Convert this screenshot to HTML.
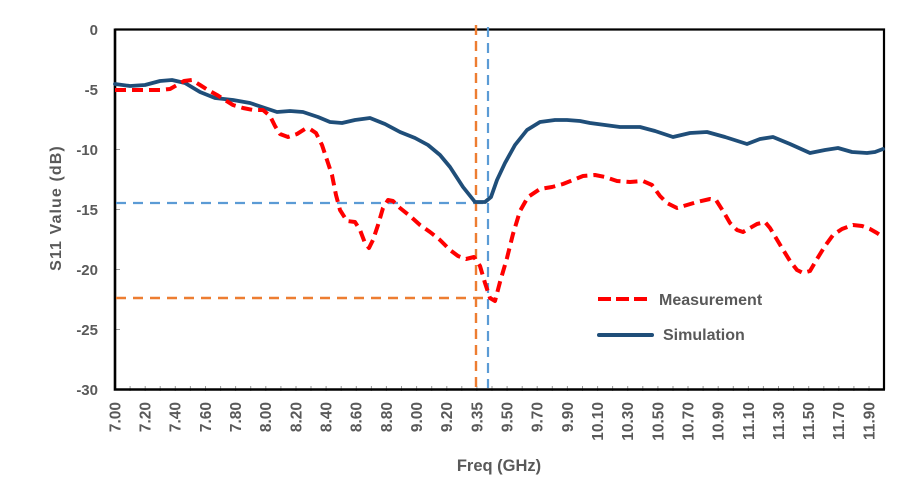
<!DOCTYPE html>
<html>
<head>
<meta charset="utf-8">
<style>
html,body{margin:0;padding:0;background:#fff;}
svg{display:block;}
text{font-family:"Liberation Sans",Arial,sans-serif;font-weight:bold;fill:#595959;}
</style>
</head>
<body>
<svg width="913" height="481" viewBox="0 0 913 481" xmlns="http://www.w3.org/2000/svg">
<rect x="0" y="0" width="913" height="481" fill="#fff"/>

<!-- x ticks -->
<g stroke="#9a9a9a" stroke-width="1">
<path d="M130.1 386V391M145.2 386V391M160.2 386V391M175.3 386V391M190.4 386V391M205.5 386V391M220.6 386V391M235.6 386V391M250.7 386V391M265.8 386V391M280.9 386V391M296 386V391M311 386V391M326.1 386V391M341.2 386V391M356.3 386V391M371.4 386V391M386.4 386V391M401.5 386V391M416.6 386V391M431.7 386V391M446.8 386V391M461.8 386V391M476.9 386V391M492 386V391M507.1 386V391M522.2 386V391M537.2 386V391M552.3 386V391M567.4 386V391M582.5 386V391M597.6 386V391M612.6 386V391M627.7 386V391M642.8 386V391M657.9 386V391M673 386V391M688 386V391M703.1 386V391M718.2 386V391M733.3 386V391M748.4 386V391M763.4 386V391M778.5 386V391M793.6 386V391M808.7 386V391M823.8 386V391M838.8 386V391M853.9 386V391M869 386V391"/>
<path d="M115 89.5H120M115 149.5H120M115 209.5H120M115 269.5H120M115 329.5H120"/>
</g>

<!-- plot frame -->
<path d="M115 29.5H884V389.5" fill="none" stroke="#000" stroke-width="2.2"/>
<path d="M115 28.5V389.5H885" fill="none" stroke="#000" stroke-width="2.6"/>

<!-- reference dashed lines -->
<path d="M116 203H488" stroke="#5B9BD5" stroke-width="2.2" stroke-dasharray="10 7" fill="none"/>
<path d="M116 298H490" stroke="#ED7D31" stroke-width="2.4" stroke-dasharray="10 7" fill="none"/>
<path d="M476 25V388" stroke="#ED7D31" stroke-width="2.4" stroke-dasharray="10 6" fill="none"/>
<path d="M488 27V388" stroke="#5B9BD5" stroke-width="2.2" stroke-dasharray="10 6" fill="none"/>

<!-- Simulation -->
<polyline fill="none" stroke="#1F4E79" stroke-width="3.8" stroke-linejoin="round" stroke-linecap="round"
points="115,84 130,86 145,85 160,81 172,80 185,83 200,92 215,98 233,100 250,103 265,108 277,112 290,111 303,112 318,117 330,122 342,123 355,120 370,118 385,124 400,132 415,138 428,145 440,155 450,167 463,187 475,202 485,202 491,197 497,180 505,163 515,145 527,130 540,122 555,120 567,120 580,121 590,123 605,125 620,127 640,127 655,131 673,137 690,133 707,132 725,137 747,144 760,139 773,137 790,144 810,153 825,150 838,148 852,152 867,153 875,152 883,149"/>

<!-- Measurement -->
<polyline fill="none" stroke="#FF0000" stroke-width="4" stroke-linejoin="round" stroke-dasharray="11 6"
points="115,90 130,90 145,90 160,90 170,89 177,85 184,81 192,80 200,85 208,90 217,95 225,100 233,105 243,108 253,110 263,110 270,116 275,126 280,134 288,137 297,134 305,129 310,129 316,133 322,145 327,160 332,175 336,195 340,210 347,221 355,222 360,230 365,243 369,248 373,240 378,225 383,208 388,200 393,201 400,208 410,216 420,225 430,232 440,240 450,250 458,256 466,259 474,257 480,266 485,283 490,298 495,301 500,282 507,258 513,234 520,211 528,197 540,189 552,187 563,184 573,180 583,176 595,175 605,177 617,181 630,182 643,181 652,185 660,196 667,203 677,208 687,205 697,202 710,199 716,200 723,211 730,223 737,230 743,232 750,228 757,224 765,222 770,228 776,238 782,248 790,261 797,270 803,273 810,271 817,259 825,246 833,235 842,229 853,225 862,226 870,229 877,233 883,237"/>

<!-- y tick labels -->
<g font-size="15" text-anchor="end">
<text x="98" y="29.5" dy="0.35em">0</text>
<text x="98" y="89.5" dy="0.35em">-5</text>
<text x="98" y="149.5" dy="0.35em">-10</text>
<text x="98" y="209.5" dy="0.35em">-15</text>
<text x="98" y="269.5" dy="0.35em">-20</text>
<text x="98" y="329.5" dy="0.35em">-25</text>
<text x="98" y="389.5" dy="0.35em">-30</text>
</g>

<!-- y title -->
<text x="0" y="0" font-size="16" letter-spacing="1.1" text-anchor="middle" transform="translate(55.5,208) rotate(-90)" dy="0.35em">S11 Value (dB)</text>

<!-- x tick labels -->
<g font-size="15.5" text-anchor="end">
<text transform="translate(115,402) rotate(-90)" dy="0.35em">7.00</text>
<text transform="translate(145.2,402) rotate(-90)" dy="0.35em">7.20</text>
<text transform="translate(175.3,402) rotate(-90)" dy="0.35em">7.40</text>
<text transform="translate(205.5,402) rotate(-90)" dy="0.35em">7.60</text>
<text transform="translate(235.6,402) rotate(-90)" dy="0.35em">7.80</text>
<text transform="translate(265.8,402) rotate(-90)" dy="0.35em">8.00</text>
<text transform="translate(296,402) rotate(-90)" dy="0.35em">8.20</text>
<text transform="translate(326.1,402) rotate(-90)" dy="0.35em">8.40</text>
<text transform="translate(356.3,402) rotate(-90)" dy="0.35em">8.60</text>
<text transform="translate(386.4,402) rotate(-90)" dy="0.35em">8.80</text>
<text transform="translate(416.6,402) rotate(-90)" dy="0.35em">9.00</text>
<text transform="translate(446.8,402) rotate(-90)" dy="0.35em">9.20</text>
<text transform="translate(476.9,402) rotate(-90)" dy="0.35em">9.35</text>
<text transform="translate(507.1,402) rotate(-90)" dy="0.35em">9.50</text>
<text transform="translate(537.2,402) rotate(-90)" dy="0.35em">9.70</text>
<text transform="translate(567.4,402) rotate(-90)" dy="0.35em">9.90</text>
<text transform="translate(597.6,402) rotate(-90)" dy="0.35em">10.10</text>
<text transform="translate(627.7,402) rotate(-90)" dy="0.35em">10.30</text>
<text transform="translate(657.9,402) rotate(-90)" dy="0.35em">10.50</text>
<text transform="translate(688,402) rotate(-90)" dy="0.35em">10.70</text>
<text transform="translate(718.2,402) rotate(-90)" dy="0.35em">10.90</text>
<text transform="translate(748.4,402) rotate(-90)" dy="0.35em">11.10</text>
<text transform="translate(778.5,402) rotate(-90)" dy="0.35em">11.30</text>
<text transform="translate(808.7,402) rotate(-90)" dy="0.35em">11.50</text>
<text transform="translate(838.8,402) rotate(-90)" dy="0.35em">11.70</text>
<text transform="translate(869,402) rotate(-90)" dy="0.35em">11.90</text>
</g>

<!-- x title -->
<text x="499" y="471" font-size="16.5" text-anchor="middle">Freq (GHz)</text>

<!-- legend -->
<path d="M598 299H651" stroke="#FF0000" stroke-width="4" stroke-dasharray="13 5" fill="none"/>
<text x="659" y="305" font-size="16">Measurement</text>
<path d="M599 335H652" stroke="#1F4E79" stroke-width="4" stroke-linecap="round" fill="none"/>
<text x="663" y="340" font-size="16">Simulation</text>
</svg>
</body>
</html>
